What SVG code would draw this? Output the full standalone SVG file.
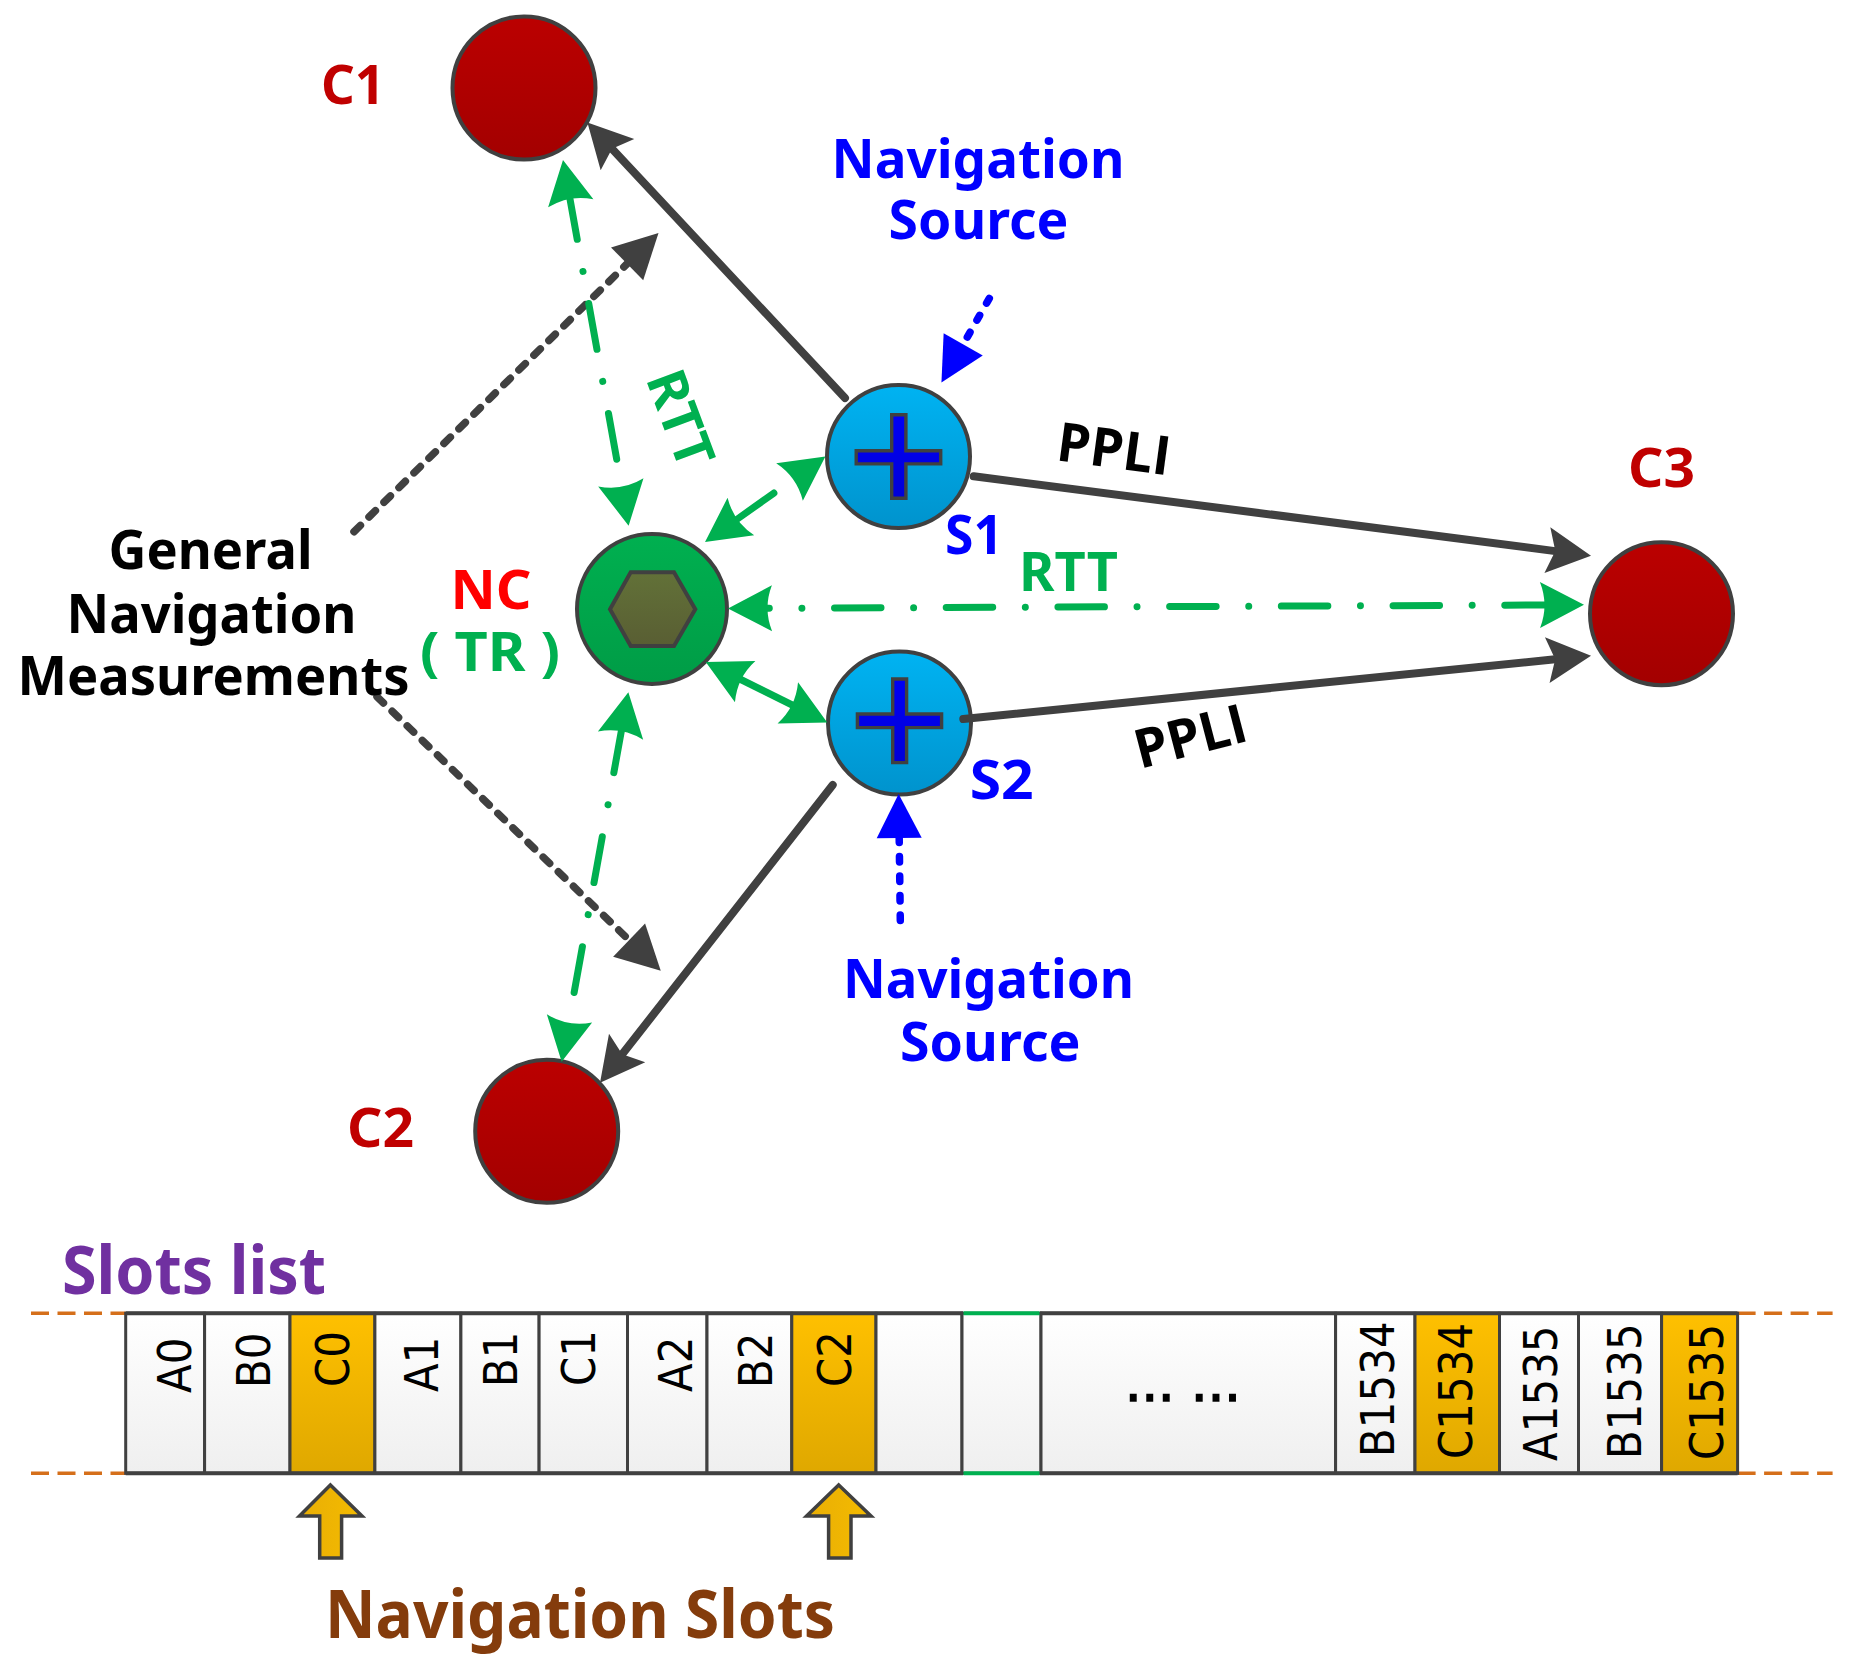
<svg xmlns="http://www.w3.org/2000/svg" width="1861" height="1661" viewBox="0 0 1861 1661">
<style>
text{font-family:"Noto Sans","Open Sans","DejaVu Sans",sans-serif;font-weight:700;font-size:54px}
.ppli{font-family:"Open Sans","Noto Sans",sans-serif}
.red{fill:#c00000}.blue{fill:#0000ff}.grn{fill:#00b050}.blk{fill:#000}
.edge{stroke:#404040;stroke-width:4}
.crs{stroke:#404040;stroke-width:3.4;fill:url(#gCross)}
.gray{stroke:#404040;stroke-width:8;fill:none;stroke-linecap:round}
.gray-d{stroke:#404040;stroke-width:7.5;fill:none;stroke-linecap:round;stroke-dasharray:9 12}
.blu-d{stroke:#0000ff;stroke-width:7.5;fill:none;stroke-linecap:round;stroke-dasharray:5.5 14}
.g-dd{stroke:#00b050;stroke-width:7;fill:none;stroke-linecap:round;stroke-dasharray:46.5 32.6 .01 32.6}
.g-s{stroke:#00b050;stroke-width:7;fill:none}
.cell{stroke:#404040;stroke-width:3;fill:url(#gCell)}
.gold{stroke:#404040;stroke-width:3;fill:url(#gGold)}
.cellt{font-family:"DejaVu Sans",sans-serif;font-weight:400;font-size:42px;fill:#000}
.or{stroke:#d56f1a;stroke-width:3.5;stroke-dasharray:18 8.5;fill:none}
.bar{stroke:#404040;stroke-width:4;fill:none}
.up{stroke:#404040;stroke-width:3.5;fill:url(#gArrow)}
</style>
<defs>
<linearGradient id="gRed" x1="0" y1="0" x2="0" y2="1"><stop offset="0" stop-color="#bb0000"/><stop offset="1" stop-color="#a30000"/></linearGradient>
<linearGradient id="gBlue" x1="0" y1="0" x2="0" y2="1"><stop offset="0" stop-color="#00b3f2"/><stop offset="1" stop-color="#0093cd"/></linearGradient>
<linearGradient id="gGreen" x1="0" y1="0" x2="0" y2="1"><stop offset="0" stop-color="#00b050"/><stop offset="1" stop-color="#009c46"/></linearGradient>
<linearGradient id="gHex" x1="0" y1="0" x2="0" y2="1"><stop offset="0" stop-color="#627138"/><stop offset="1" stop-color="#595e33"/></linearGradient>
<linearGradient id="gCross" x1="0" y1="0" x2="0" y2="1"><stop offset="0" stop-color="#0000f5"/><stop offset="1" stop-color="#0000d8"/></linearGradient>
<linearGradient id="gCell" x1="0" y1="0" x2="0" y2="1"><stop offset="0" stop-color="#ffffff"/><stop offset="1" stop-color="#efefef"/></linearGradient>
<linearGradient id="gGold" x1="0" y1="0" x2="0" y2="1"><stop offset="0" stop-color="#ffc000"/><stop offset="1" stop-color="#dfa800"/></linearGradient>
<linearGradient id="gArrow" x1="0" y1="0" x2="1" y2="0"><stop offset="0" stop-color="#e9ae05"/><stop offset="1" stop-color="#f4bb00"/></linearGradient>
<marker id="mGray" markerUnits="userSpaceOnUse" viewBox="-10 -30 60 60" refX="0" refY="0" markerWidth="60" markerHeight="60" orient="auto"><path d="M36,0 L-8,-23 L0,0 L-8,23 Z" fill="#404040"/></marker>
<marker id="mGrayF" markerUnits="userSpaceOnUse" viewBox="-10 -30 60 60" refX="0" refY="0" markerWidth="60" markerHeight="60" orient="auto"><path d="M44,0 L0,-23 L0,23 Z" fill="#404040"/></marker>
<marker id="mGreen" markerUnits="userSpaceOnUse" viewBox="-10 -30 60 60" refX="0" refY="0" markerWidth="60" markerHeight="60" orient="auto-start-reverse"><path d="M38,0 L-6,-23 Q3,0 -6,23 Z" fill="#00b050"/></marker>
<marker id="mBlue" markerUnits="userSpaceOnUse" viewBox="-10 -30 60 60" refX="0" refY="0" markerWidth="60" markerHeight="60" orient="auto"><path d="M44,0 L0,-22.5 L0,22.5 Z" fill="#0000ff"/></marker>
</defs>
<rect width="1861" height="1661" fill="#fff"/>

<g id="C1"><circle cx="524" cy="88" r="71.5" fill="url(#gRed)" class="edge"/><text class="red" x="321" y="104" textLength="64" lengthAdjust="spacingAndGlyphs">C1</text></g>
<g id="C2"><circle cx="546.7" cy="1131.3" r="71.5" fill="url(#gRed)" class="edge"/><text class="red" x="347" y="1146.7" textLength="67" lengthAdjust="spacingAndGlyphs">C2</text></g>
<g id="C3"><circle cx="1661.5" cy="613.7" r="71.5" fill="url(#gRed)" class="edge"/><text class="red" x="1628" y="487.3" textLength="67" lengthAdjust="spacingAndGlyphs">C3</text></g>
<g id="NC"><circle cx="652" cy="609" r="75" fill="url(#gGreen)" class="edge"/><polygon points="630.7,572.3 674,572.3 695.3,609.3 674,646 630.7,646 610,609.3" fill="url(#gHex)" class="edge"/>
<text fill="#ff0000" x="450.6" y="608.7" textLength="81" lengthAdjust="spacingAndGlyphs">NC</text><text class="grn" x="420" y="670.7" textLength="140" lengthAdjust="spacingAndGlyphs">( TR )</text></g>
<g id="S1"><circle cx="898.5" cy="456.5" r="71.5" fill="url(#gBlue)" class="edge"/><polygon class="crs" points="891.7,414.7 905.9,414.7 905.9,450.7 940.7,450.7 940.7,463.9 905.9,463.9 905.9,498.3 891.7,498.3 891.7,463.9 856.2,463.9 856.2,450.7 891.7,450.7"/><text class="blue" x="945" y="554" textLength="58" lengthAdjust="spacingAndGlyphs">S1</text></g>
<g id="S2"><circle cx="899.5" cy="723" r="71.5" fill="url(#gBlue)" class="edge"/><polygon class="crs" points="892.7,679 906.6,679 906.6,714 941.6,714 941.6,727.6 906.6,727.6 906.6,762.6 892.7,762.6 892.7,727.6 857.4,727.6 857.4,714 892.7,714"/><text class="blue" x="969.7" y="799" textLength="64" lengthAdjust="spacingAndGlyphs">S2</text></g>

<g id="connectors">
<line class="gray" x1="845" y1="398" x2="612" y2="148.8" marker-end="url(#mGray)"/>
<line class="gray" x1="973.7" y1="476.3" x2="1555.3" y2="551.1" marker-end="url(#mGray)"/>
<line class="gray" x1="963.3" y1="719" x2="1555.2" y2="659.3" marker-end="url(#mGray)"/>
<line class="gray" x1="832.7" y1="785" x2="622.2" y2="1054.3" marker-end="url(#mGray)"/>
<line class="gray-d" x1="354" y1="531.7" x2="627.1" y2="263.8" marker-end="url(#mGrayF)"/>
<line class="gray-d" x1="377" y1="696.7" x2="629.1" y2="940.1" marker-end="url(#mGrayF)"/>
<line class="blu-d" x1="989.3" y1="298.4" x2="963.2" y2="344.3" marker-end="url(#mBlue)"/>
<line class="blu-d" x1="900.3" y1="920.5" x2="899.2" y2="838" marker-end="url(#mBlue)"/>
<line class="g-dd" stroke-dashoffset="3.9" x1="569.7" y1="197.4" x2="621.9" y2="488.3" marker-start="url(#mGreen)" marker-end="url(#mGreen)"/>
<line class="g-dd" stroke-dashoffset="2.9" x1="621.6" y1="729.7" x2="568.4" y2="1024.3" marker-start="url(#mGreen)" marker-end="url(#mGreen)"/>
<line class="g-dd" stroke-dashoffset="43.2" x1="766" y1="608.3" x2="1546" y2="605" marker-start="url(#mGreen)" marker-end="url(#mGreen)"/>
<line class="g-dd" x1="736" y1="520" x2="794.4" y2="478.5" marker-start="url(#mGreen)" marker-end="url(#mGreen)"/>
<line class="g-s" x1="739.8" y1="679" x2="793.2" y2="705.5" marker-start="url(#mGreen)" marker-end="url(#mGreen)"/>
</g>

<g id="labels">
<text class="blue" x="831.5" y="178" textLength="293" lengthAdjust="spacingAndGlyphs">Navigation</text>
<text class="blue" x="888.5" y="239" textLength="180" lengthAdjust="spacingAndGlyphs">Source</text>
<text class="blue" x="843" y="998.3" textLength="291" lengthAdjust="spacingAndGlyphs">Navigation</text>
<text class="blue" x="900" y="1061" textLength="180.6" lengthAdjust="spacingAndGlyphs">Source</text>
<text class="blk" x="108.5" y="569.3" textLength="204" lengthAdjust="spacingAndGlyphs">General</text>
<text class="blk" x="66.5" y="632.7" textLength="290" lengthAdjust="spacingAndGlyphs">Navigation</text>
<text class="blk" x="17.5" y="695" textLength="392" lengthAdjust="spacingAndGlyphs">Measurements</text>
<text class="grn" x="1019" y="590.7" textLength="99" lengthAdjust="spacingAndGlyphs">RTT</text>
<text class="grn" transform="translate(645.4,378.7) rotate(69.5)" textLength="99" lengthAdjust="spacingAndGlyphs">RTT</text>
<text class="blk ppli" transform="translate(1055,460) rotate(7.7)" textLength="114" lengthAdjust="spacingAndGlyphs">PPLI</text>
<text class="blk ppli" transform="translate(1140,769) rotate(-14.6)" textLength="114" lengthAdjust="spacingAndGlyphs">PPLI</text>
<text fill="#7030a0" x="62" y="1294" style="font-size:66px" textLength="264" lengthAdjust="spacingAndGlyphs">Slots list</text>
<text fill="#843c0c" x="325" y="1638" style="font-size:66px" textLength="510" lengthAdjust="spacingAndGlyphs">Navigation Slots</text>
</g>

<g id="slots">
<line class="or" x1="31" y1="1313.3" x2="125.7" y2="1313.3"/><line class="or" x1="31" y1="1473.3" x2="125.7" y2="1473.3"/>
<line class="or" x1="1737.6" y1="1313.3" x2="1832.6" y2="1313.3"/><line class="or" x1="1737.6" y1="1473.3" x2="1832.6" y2="1473.3"/>
<rect class="cell" x="125.7" y="1313.3" width="78.9" height="160"/>
<rect class="cell" x="204.6" y="1313.3" width="85.4" height="160"/>
<rect class="gold" x="290" y="1313.3" width="84.9" height="160"/>
<rect class="cell" x="374.9" y="1313.3" width="86" height="160"/>
<rect class="cell" x="460.9" y="1313.3" width="78.2" height="160"/>
<rect class="cell" x="539.1" y="1313.3" width="88.4" height="160"/>
<rect class="cell" x="627.5" y="1313.3" width="79.5" height="160"/>
<rect class="cell" x="707" y="1313.3" width="84.8" height="160"/>
<rect class="gold" x="791.8" y="1313.3" width="84.2" height="160"/>
<rect class="cell" x="876" y="1313.3" width="86" height="160"/>
<rect class="cell" x="962" y="1313.3" width="79" height="160"/>
<rect class="cell" x="1041" y="1313.3" width="294.6" height="160"/>
<rect class="cell" x="1335.6" y="1313.3" width="79.4" height="160"/>
<rect class="gold" x="1415" y="1313.3" width="84.5" height="160"/>
<rect class="cell" x="1499.5" y="1313.3" width="79" height="160"/>
<rect class="cell" x="1578.5" y="1313.3" width="83.1" height="160"/>
<rect class="gold" x="1661.6" y="1313.3" width="76" height="160"/>
<line class="bar" x1="125.7" y1="1313.3" x2="963" y2="1313.3"/><line class="bar" x1="125.7" y1="1473.3" x2="963" y2="1473.3"/>
<line class="bar" x1="1040" y1="1313.3" x2="1737.6" y2="1313.3"/><line class="bar" x1="1040" y1="1473.3" x2="1737.6" y2="1473.3"/>
<line stroke="#00b050" stroke-width="4" x1="963.5" y1="1313.3" x2="1039.5" y2="1313.3"/><line stroke="#00b050" stroke-width="4" x1="963.5" y1="1473.3" x2="1039.5" y2="1473.3"/>
<text class="cellt" transform="translate(191,1393) rotate(-90) scale(1,1.1)">A0</text>
<text class="cellt" transform="translate(270,1388) rotate(-90) scale(1,1.1)">B0</text>
<text class="cellt" transform="translate(348.8,1387) rotate(-90) scale(1,1.1)">C0</text>
<text class="cellt" transform="translate(437.7,1392) rotate(-90) scale(1,1.1)">A1</text>
<text class="cellt" transform="translate(517,1387) rotate(-90) scale(1,1.1)">B1</text>
<text class="cellt" transform="translate(595,1386) rotate(-90) scale(1,1.1)">C1</text>
<text class="cellt" transform="translate(692,1392) rotate(-90) scale(1,1.1)">A2</text>
<text class="cellt" transform="translate(772,1388) rotate(-90) scale(1,1.1)">B2</text>
<text class="cellt" transform="translate(851,1387) rotate(-90) scale(1,1.1)">C2</text>
<text class="cellt" style="font-size:52px;stroke:#000;stroke-width:1.6" x="1125" y="1401">... ...</text>
<text class="cellt" transform="translate(1394.4,1457) rotate(-90) scale(1,1.1)">B1534</text>
<text class="cellt" transform="translate(1471.6,1459) rotate(-90) scale(1,1.1)">C1534</text>
<text class="cellt" transform="translate(1556.5,1461) rotate(-90) scale(1,1.1)">A1535</text>
<text class="cellt" transform="translate(1640.8,1459) rotate(-90) scale(1,1.1)">B1535</text>
<text class="cellt" transform="translate(1722.8,1460) rotate(-90) scale(1,1.1)">C1535</text>
<polygon class="up" points="330.4,1485 362,1516 341.6,1516 341.6,1558 319.7,1558 319.7,1516 299.5,1516"/>
<polygon class="up" points="838.7,1485 871,1516 851,1516 851,1558 828.6,1558 828.6,1516 806.6,1516"/>
</g>
</svg>
